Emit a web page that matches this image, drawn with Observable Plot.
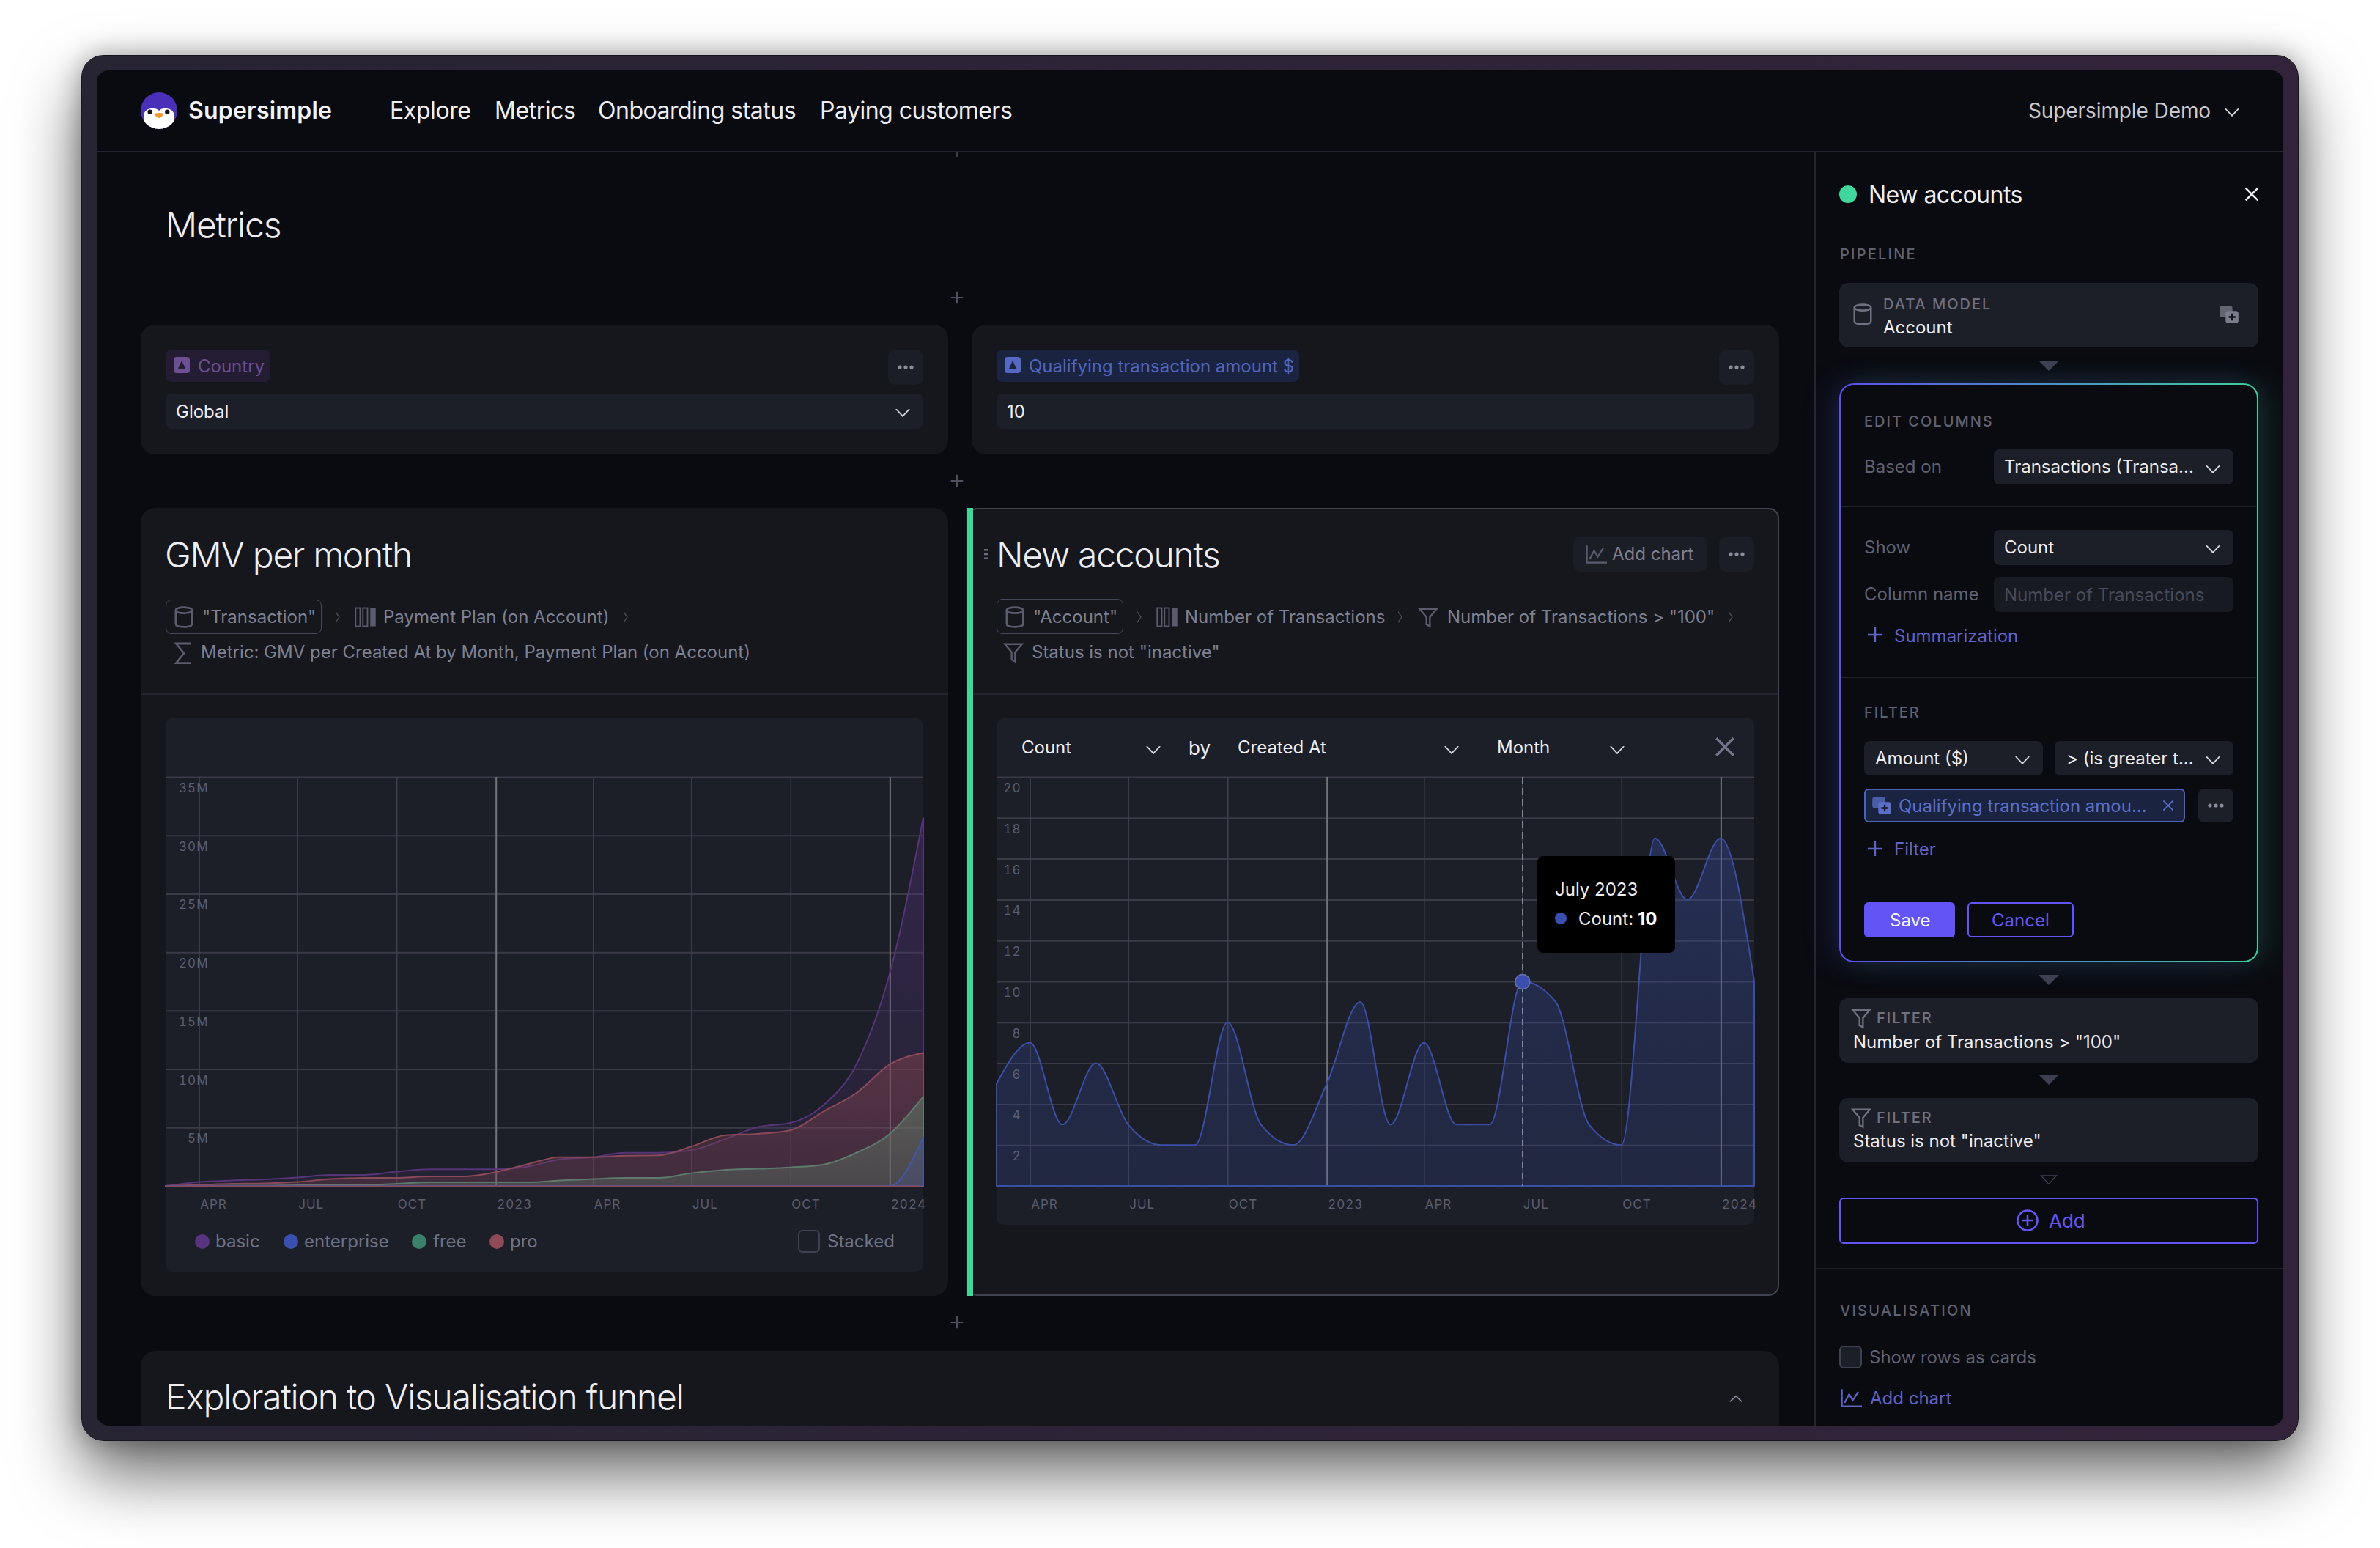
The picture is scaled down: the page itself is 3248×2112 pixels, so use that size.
<!doctype html>
<html>
<head>
<meta charset="utf-8">
<script src="https://cdn.jsdelivr.net/npm/d3@7"></script>
<script src="https://cdn.jsdelivr.net/npm/@observablehq/plot@0.6"></script>
<style>
  html, body { margin: 0; padding: 0; background: #fff; width: 3248px; height: 2112px; overflow: hidden; font-family: Inter, sans-serif; }
  #frame { position: absolute; left: 111px; top: 75px; width: 3026px; height: 1891px; border-radius: 30px;
    background: linear-gradient(90deg, #272433, #33233a); box-shadow: 0 44px 90px rgba(0,0,0,.6), 0 0 34px rgba(0,0,0,.3); border: 1px solid #17151c; box-sizing: border-box; }
  #app { position: absolute; left: 0; top: 0; width: 3248px; height: 2112px; background: #0a0b10; clip-path: inset(96px 132px 167px 132px round 16px); }
  #app div, #app svg.ic { position: absolute; box-sizing: border-box; }
  .t { white-space: nowrap; transform: translateY(-50%); line-height: 1; }
</style>
</head>
<body>
<div id="frame"></div>
<div id="app"></div>
<script>
// data
const months = ["2022-03-01","2022-04-01","2022-05-01","2022-06-01","2022-07-01","2022-08-01","2022-09-01","2022-10-01","2022-11-01","2022-12-01","2023-01-01","2023-02-01","2023-03-01","2023-04-01","2023-05-01","2023-06-01","2023-07-01","2023-08-01","2023-09-01","2023-10-01","2023-11-01","2023-12-01","2024-01-01","2024-02-01"].map(d => new Date(d));
const gmvBasic = [0,0.34,0.47,0.56,0.72,0.94,0.94,1.22,1.43,1.43,1.43,1.68,2.28,2.46,2.84,2.84,3.05,3.99,5.05,5.39,6.95,10.4,18.2,31.5];
const gmvEnterprise = [0,0,0,0,0,0,0,0,0,0,0,0,0,0,0,0,0,0,0,0,0,0,0,4.15];
const gmvFree = [0,0,0.03,0.03,0.06,0.06,0.06,0.19,0.31,0.31,0.31,0.31,0.47,0.59,0.69,0.69,1.09,1.37,1.47,1.59,1.84,2.84,4.46,7.65];
const gmvPro = [0,0.09,0.19,0.22,0.34,0.59,0.69,0.69,0.81,0.81,1.18,1.9,2.46,2.46,2.59,2.62,3.37,4.33,4.46,4.77,6.39,7.95,10.4,11.4];
const newAccounts = [5,7,3,6,3,2,2,8,3,2,5,9,3,7,3,3,10,9,3,2,17,14,17,10];
const gmvTicks = [0,5,10,15,20,25,30,35];
const countTicks = [2,4,6,8,10,12,14,16,18,20];
const xTicks = ["2022-04-01","2022-07-01","2022-10-01","2023-01-01","2023-04-01","2023-07-01","2023-10-01","2024-01-01"].map(d => new Date(d));
const yearTicks = ["2023-01-01","2024-01-01"].map(d => new Date(d));
const highlight = [{date: new Date("2023-07-01"), count: 10}];
const legendNames = ["basic","enterprise","free","pro"];
const legendColors = ["#58337f","#3a4fb0","#3b8069","#8f4a58"];

const app = document.getElementById("app");
const TXT = "#eeeef2", MUTED = "#7e8093", DIM = "#5f6172", PANEL = "#15171c", FIELD = "#1c1f28", INK = "#5f63c8", VIOLET = "#6355f5";

// small offset for the lower part of the page
const sh = y => y < 600 ? 0 : y < 1300 ? 1 : 2;

function t(text, x, y, size, color, o = {}) {
  const d = document.createElement("div");
  d.className = "t";
  d.textContent = text;
  const yy = y + (size <= 28 ? 2 : 0);
  d.style.cssText = `left:${x}px;top:${yy}px;font-size:${size}px;color:${color};font-weight:${o.w || 400};letter-spacing:${o.ls || 0}px;`;
  app.appendChild(d);
}
function box(x0, y0, x1, y1, bg, r = 8, border) {
  const d = document.createElement("div");
  const a = y0 + sh(y0), b = y1 + sh(y1);
  d.style.cssText = `left:${x0}px;top:${a}px;width:${x1 - x0}px;height:${b - a}px;background:${bg};border-radius:${r}px;${border ? "border:" + border + ";" : ""}`;
  app.appendChild(d);
  return d;
}
function ic(markup, x, y, w, h = w, vb = 24) {
  const d = document.createElement("div");
  d.style.cssText = `left:${x - w / 2}px;top:${y + sh(y) - h / 2}px;width:${w}px;height:${h}px;`;
  d.innerHTML = `<svg width="${w}" height="${h}" viewBox="0 0 ${vb} ${vb}" preserveAspectRatio="none" fill="none">${markup}</svg>`;
  app.appendChild(d);
}
const chev = (x, y, c = "#d8d8e0") => ic(`<path d="M1 2L10 18L19 2" stroke="${c}" stroke-width="2.2"/>`, x, y - 1, 20, 12, 20);
const plus = (x, y, c = INK, s = 22) => ic(`<path d="M12 1V23M1 12H23" stroke="${c}" stroke-width="2.6"/>`, x, y, s);
const dots = (x, y) => ic(`<circle cx="4" cy="12" r="2.6" fill="#8b8d9b"/><circle cx="12" cy="12" r="2.6" fill="#8b8d9b"/><circle cx="20" cy="12" r="2.6" fill="#8b8d9b"/>`, x, y, 24);
const cyl = (x, y, c = "#5a5c6e") => ic(`<ellipse cx="12" cy="5" rx="9" ry="3" stroke="${c}" stroke-width="2"/><path d="M3 5V19C3 21 7 22 12 22S21 21 21 19V5" stroke="${c}" stroke-width="2"/>`, x, y, 30, 32);
const cols = (x, y, c = "#5a5c6e") => ic(`<rect x="1" y="2" width="5" height="20" stroke="${c}" stroke-width="1.5"/><rect x="9" y="2" width="5" height="20" stroke="${c}" stroke-width="1.5"/><rect x="17" y="2" width="6" height="20" fill="${c}"/>`, x, y, 30, 30);
const funnel = (x, y, c = "#5a5c6e") => ic(`<path d="M2 3H22L14 12V22L10 20V12Z" stroke="${c}" stroke-width="2"/>`, x, y, 28, 30);
const crumb = (x, y) => ic(`<path d="M4 2L14 10L4 18" stroke="#4a4c5c" stroke-width="2"/>`, x, y, 10, 18, 20);
const tri = (y) => ic(`<path d="M0 0H24L12 24Z" fill="#3d4050"/>`, 2796, y, 28, 14);
const chartIc = (x, y, c) => ic(`<path d="M2 2V22H24" stroke="${c}" stroke-width="2"/><path d="M5 18L10 8L14 15L20 5" stroke="${c}" stroke-width="1.8"/>`, x, y, 30, 28);
const stack = (x, y, c) => ic(`<rect x="1" y="2" width="15" height="13" rx="3" fill="${c}" opacity=".75"/><rect x="8" y="8" width="15" height="14" rx="3" fill="${c}"/><path d="M15.5 11V19M11.5 15H19.5" stroke="#14151b" stroke-width="2"/>`, x, y, 28);

// top bar
box(132, 206, 3116, 208, "#24262f", 0);
ic(`<clipPath id="logoClip"><circle cx="25" cy="25" r="25"/></clipPath><circle cx="25" cy="25" r="25" fill="#4a30b8"/><path d="M4 50V33C4 21 19 19 25 25C31 19 46 21 46 33V50Z" fill="#fff" clip-path="url(#logoClip)"/><circle cx="12.7" cy="26.7" r="3.2" fill="#15151f"/><circle cx="36.3" cy="26.7" r="3.2" fill="#15151f"/><path d="M18 29Q25 27 32 29Q28 35 25 35Q22 35 18 29Z" fill="#f39a2d"/>`, 217, 151, 50, 50, 50);
t("Supersimple", 257, 151, 32, "#f4f4f8", {w: 600, ls: 0.2});
t("Explore", 532, 151, 32, TXT, {ls: -0.4});
t("Metrics", 675, 151, 32, TXT, {ls: -0.45});
t("Onboarding status", 816, 151, 32, TXT, {ls: -0.5});
t("Paying customers", 1119, 151, 32, TXT, {ls: -0.5});
t("Supersimple Demo", 2768, 149, 28, "#c8c8d2", {ls: -0.1});
chev(3046, 150);

// page title, add marks
box(1305, 208, 1307, 214, "#3a3d4c", 0);
t("Metrics", 226, 307, 48, TXT, {w: 300, ls: -1.25});
plus(1306, 406, "#4f5160", 18);
plus(1306, 655, "#4f5160", 18);
plus(1306, 1802, "#4f5160", 18);

// filter cards
box(192, 443, 1294, 619, PANEL, 20);
box(226, 477, 369, 521, "#241c33", 8);
ic(`<rect x="1" y="1" width="22" height="22" rx="4" fill="#6d4f93"/><path d="M12 6L17 17H7Z" fill="#241c33"/>`, 248, 498, 24);
t("Country", 270, 498, 24, "#6c4f8f");
box(1212, 477, 1260, 525, "#1c1e26", 10);
dots(1236, 501);
box(226, 537, 1260, 585, FIELD, 8);
t("Global", 240, 560, 24, TXT);
chev(1232, 560);

box(1326, 443, 2428, 619, PANEL, 20);
box(1360, 477, 1773, 521, "#1a2340", 8);
ic(`<rect x="1" y="1" width="22" height="22" rx="4" fill="#5468c4"/><path d="M12 6L17 17H7Z" fill="#1a2340"/>`, 1382, 498, 24);
t("Qualifying transaction amount $", 1404, 498, 24, "#5165bd");
box(2346, 477, 2394, 525, "#1c1e26", 10);
dots(2370, 501);
box(1360, 537, 2394, 585, FIELD, 8);
t("10", 1374, 560, 24, TXT);

// GMV card
box(192, 692, 1294, 1766, PANEL, 20);
box(192, 945, 1294, 947, "#24262f", 0);
t("GMV per month", 225, 757, 48, TXT, {w: 300, ls: -1.25});
box(226, 817, 439, 864, "transparent", 8, "1.5px solid #45475a");
cyl(251, 841);
t("\"Transaction\"", 276, 840, 24, MUTED);
crumb(461, 841);
cols(499, 841);
t("Payment Plan (on Account)", 523, 840, 24, MUTED);
crumb(854, 841);
ic(`<path d="M22 3H3L13 13L3 23H22" stroke="#5a5c6e" stroke-width="2.2"/>`, 250, 889, 26, 32);
t("Metric: GMV per Created At by Month, Payment Plan (on Account)", 274, 888, 24, MUTED);
box(226, 979, 1260, 1733, FIELD, 10);

// New accounts card
box(1320, 692, 2428, 1766, PANEL, 14, "2px solid #3f4250");
box(1320, 692, 1328, 1766, "#3fd79c", 0);
box(1328, 945, 2426, 947, "#24262f", 0);
ic(`<path d="M3 5H21M3 12H21M3 19H21" stroke="#6a6c7e" stroke-width="3"/>`, 1346, 755, 8, 20, 24);
t("New accounts", 1360, 757, 48, TXT, {w: 300, ls: -1.25});
box(2147, 731, 2330, 779, "#1c1e26", 10);
chartIc(2178, 755, "#5a5c6e");
t("Add chart", 2200, 754, 24, MUTED);
box(2346, 731, 2394, 779, "#1c1e26", 10);
dots(2370, 755);
box(1360, 816, 1533, 864, "transparent", 8, "1.5px solid #45475a");
cyl(1385, 841);
t("\"Account\"", 1410, 840, 24, MUTED);
crumb(1555, 841);
cols(1593, 841);
t("Number of Transactions", 1617, 840, 24, MUTED);
crumb(1911, 841);
funnel(1949, 841);
t("Number of Transactions > \"100\"", 1975, 840, 24, MUTED);
crumb(2362, 841);
funnel(1383, 889);
t("Status is not \"inactive\"", 1408, 888, 24, MUTED);
box(1360, 979, 2394, 1669, FIELD, 10);
t("Count", 1394, 1018, 24, TXT);
chev(1574, 1019);
t("by", 1622, 1019, 26, TXT);
t("Created At", 1689, 1018, 24, TXT);
chev(1981, 1019);
t("Month", 2043, 1018, 24, TXT);
chev(2207, 1019);
ic(`<path d="M2 2L22 22M22 2L2 22" stroke="#73758a" stroke-width="3"/>`, 2354, 1018, 28);

// funnel card at the bottom
box(192, 1841, 2428, 2000, PANEL, 20);
t("Exploration to Visualisation funnel", 226, 1906, 48, TXT, {w: 300, ls: -1.25});
ic(`<path d="M1 17L10 3L19 17" stroke="#8b8d9b" stroke-width="2.2"/>`, 2369, 1901, 18, 11, 20);

// charts
function xLabel(d) {
  return d.getUTCMonth() === 0 ? String(d.getUTCFullYear()) : d3.utcFormat("%b")(d).toUpperCase();
}
function gradient(id, color, a, b) {
  return () => {
    const defs = d3.create("svg:defs");
    const g = defs.append("linearGradient").attr("id", id).attr("x1", 0).attr("x2", 0).attr("y1", 0).attr("y2", 1);
    g.append("stop").attr("offset", "0%").attr("stop-color", color).attr("stop-opacity", a);
    g.append("stop").attr("offset", "100%").attr("stop-color", color).attr("stop-opacity", b);
    return defs.node();
  };
}
function grids(ticks) {
  return [
    Plot.gridY(ticks, {stroke: "#3a3b47", strokeOpacity: 1, strokeWidth: 2}),
    Plot.gridX(xTicks, {stroke: "#3d3f4c", strokeOpacity: 1, strokeWidth: 1.5}),
    Plot.ruleX(yearTicks, {stroke: "#727377", strokeWidth: 2})
  ];
}
function axes(ticks, fmt, labelX) {
  return [
    Plot.axisY(ticks, {anchor: "left", tickSize: 0, tickPadding: 0, dx: labelX, dy: 15, textAnchor: "end", tickFormat: fmt, fill: "#5b5d6e", label: null}),
    Plot.axisX(xTicks, {anchor: "bottom", tickSize: 0, tickPadding: 0, dx: 1, dy: 18, textAnchor: "start", tickFormat: xLabel, fill: "#5b5d6e", label: null})
  ];
}
function mount(node, x) {
  const d = document.createElement("div");
  d.style.cssText = `left:${x}px;top:1058px;width:1034px;height:610px;`;
  d.appendChild(node);
  app.appendChild(d);
}
const plotStyle = {background: "transparent", fontFamily: "Inter", fontSize: "17px", letterSpacing: "1px", overflow: "visible"};

// draw order: basic, pro, free, enterprise
const gmvSeries = [
  {values: gmvBasic, stroke: "#553478", id: "gBasic", fill: "#58337f", a: 0.38, b: 0.14},
  {values: gmvPro, stroke: "#8a4a5a", id: "gPro", fill: "#84444f", a: 0.5, b: 0.28},
  {values: gmvFree, stroke: "#5e7a6d", id: "gFree", fill: "#62836c", a: 0.5, b: 0.32},
  {values: gmvEnterprise, stroke: "#4457a5", id: "gEnt", fill: "#4457a5", a: 0.28, b: 0.24}
];
const rows = values => months.map((date, i) => ({date, value: values[i]}));

mount(Plot.plot({
  width: 1034, height: 610, marginTop: 2, marginBottom: 50, marginLeft: 0, marginRight: 0,
  style: plotStyle,
  x: {type: "utc", domain: [months[0], months[months.length - 1]]},
  y: {domain: [0, 35]},
  marks: [
    ...gmvSeries.map(s => gradient(s.id, s.fill, s.a, s.b)),
    ...grids(gmvTicks),
    ...gmvSeries.map(s => Plot.areaY(rows(s.values), {x: "date", y: "value", fill: `url(#${s.id})`, stroke: s.stroke, strokeWidth: 2, curve: "monotone-x"})),
    Plot.ruleY([0], {stroke: "#8a4a5a", strokeWidth: 2}),
    ...axes(gmvTicks, v => v ? v + "M" : "", 58)
  ]
}), 226);

mount(Plot.plot({
  width: 1034, height: 610, marginTop: 2, marginBottom: 50, marginLeft: 0, marginRight: 0,
  style: plotStyle,
  x: {type: "utc", domain: [months[0], months[months.length - 1]]},
  y: {domain: [0, 20]},
  marks: [
    gradient("gCount", "#3a4fb0", 0.32, 0.18),
    ...grids(countTicks),
    Plot.areaY(rows(newAccounts), {x: "date", y: "value", fill: "url(#gCount)", stroke: "#3b4ea6", strokeWidth: 2, curve: "monotone-x"}),
    Plot.ruleX(highlight, {x: "date", stroke: "#8a8c99", strokeWidth: 1.5, strokeDasharray: "9,6"}),
    Plot.dot(highlight, {x: "date", y: "count", r: 10, fill: "#3a4eb0", stroke: "#6471ad", strokeWidth: 1.5}),
    ...axes(countTicks, d => String(d), 33)
  ]
}), 1360);

// legend under the GMV chart
const legendDots = [276, 397, 572, 678], legendText = [294, 415, 591, 696];
legendNames.forEach((name, i) => {
  ic(`<circle cx="10" cy="10" r="10" fill="${legendColors[i]}"/>`, legendDots[i], 1692, 20, 20, 20);
  t(name, legendText[i], 1692, 24, "#6f7285");
});
box(1089, 1676, 1119, 1707, "transparent", 6, "2px solid #3f4150");
t("Stacked", 1129, 1692, 24, "#6f7285");

// tooltip
box(2098, 1167, 2286, 1299, "#000", 8);
t("July 2023", 2122, 1212, 24, TXT);
ic(`<circle cx="8" cy="8" r="8" fill="#3a4eb0"/>`, 2130, 1252, 16, 16, 16);
t("Count:", 2154, 1252, 24, TXT);
t("10", 2235, 1252, 24, "#fff", {w: 700});

// side panel
box(2477, 208, 3116, 1946, "#0a0b10", 0);
box(2476, 208, 2478, 1946, "#24262f", 0);
ic(`<circle cx="12" cy="12" r="12" fill="#3fd79c"/>`, 2522, 265, 24);
t("New accounts", 2550, 266, 32, TXT, {ls: -0.5});
ic(`<path d="M2 2L22 22M22 2L2 22" stroke="#f0f0f4" stroke-width="3"/>`, 3073, 265, 20);
t("PIPELINE", 2511, 345, 20, DIM, {w: 500, ls: 2.2});
box(2510, 386, 3082, 474, FIELD, 12);
cyl(2542, 429, "#6f7080");
t("DATA MODEL", 2570, 413, 20, "#6f7080", {w: 500, ls: 2});
t("Account", 2570, 445, 24, TXT);
stack(3042, 429, "#7b7d8c");
tri(497);

const edit = box(2510, 523, 3082, 1311, "#0a0b10", 20, "2.5px solid transparent");
edit.style.background = "linear-gradient(#0a0b10,#0a0b10) padding-box, linear-gradient(90deg,#5b4ff0,#3fcf9c) border-box";
edit.style.boxShadow = "-14px 0 40px rgba(91,79,240,.16), 14px 0 40px rgba(63,207,156,.16)";
t("EDIT COLUMNS", 2544, 573, 20, DIM, {w: 500, ls: 2});
t("Based on", 2544, 635, 24, DIM);
box(2721, 612, 3048, 660, FIELD, 8);
t("Transactions (Transa...", 2735, 635, 24, TXT);
chev(3020, 636);
box(2513, 689, 3079, 691, "#1f2129", 0);
t("Show", 2544, 745, 24, DIM);
box(2721, 722, 3048, 770, FIELD, 8);
t("Count", 2735, 745, 24, TXT);
chev(3020, 745);
t("Column name", 2544, 809, 24, DIM);
box(2721, 786, 3048, 834, "#181a22", 8);
t("Number of Transactions", 2735, 810, 24, "#474a5a");
plus(2559, 865);
t("Summarization", 2585, 866, 24, INK);
box(2513, 922, 3079, 924, "#1f2129", 0);
t("FILTER", 2544, 970, 20, DIM, {w: 500, ls: 2});
box(2544, 1010, 2788, 1057, FIELD, 8);
t("Amount ($)", 2559, 1033, 24, TXT);
chev(2760, 1033);
box(2804, 1010, 3048, 1057, FIELD, 8);
t("> (is greater t...", 2820, 1033, 24, TXT);
chev(3020, 1033);
box(2544, 1075, 2982, 1121, "#1a2340", 6, "2px solid #4b62b5");
stack(2568, 1098, "#5a70c8");
t("Qualifying transaction amou...", 2591, 1098, 24, "#5a70c8");
ic(`<path d="M2 2L22 22M22 2L2 22" stroke="#5a70c8" stroke-width="2.4"/>`, 2959, 1098, 16);
box(3000, 1075, 3048, 1121, FIELD, 8);
dots(3024, 1098);
plus(2559, 1157);
t("Filter", 2585, 1157, 24, INK);
box(2544, 1230, 2668, 1278, VIOLET, 6);
t("Save", 2579, 1254, 24, "#f4f4fb");
box(2685, 1230, 2830, 1278, "transparent", 6, "2.5px solid " + VIOLET);
t("Cancel", 2718, 1254, 24, VIOLET);

tri(1333);
box(2510, 1360, 3082, 1448, FIELD, 12);
funnel(2540, 1387, "#6f7080");
t("FILTER", 2561, 1387, 20, "#6f7080", {w: 500, ls: 2});
t("Number of Transactions > \"100\"", 2529, 1420, 24, TXT);
tri(1469);
box(2510, 1496, 3082, 1584, FIELD, 12);
funnel(2540, 1523, "#6f7080");
t("FILTER", 2561, 1523, 20, "#6f7080", {w: 500, ls: 2});
t("Status is not \"inactive\"", 2529, 1555, 24, TXT);
ic(`<path d="M1 1H23L12 23Z" stroke="#3d4050" stroke-width="1.5"/>`, 2796, 1604, 24, 13);
box(2510, 1632, 3082, 1695, "transparent", 6, "2.5px solid " + VIOLET);
ic(`<circle cx="15" cy="15" r="13.5" stroke="${VIOLET}" stroke-width="2.5"/><path d="M15 8V22M8 15H22" stroke="${VIOLET}" stroke-width="2.5"/>`, 2767, 1663, 30, 30, 30);
t("Add", 2796, 1664, 26, VIOLET);
box(2478, 1728, 3116, 1730, "#1f2129", 0);
t("VISUALISATION", 2511, 1786, 20, DIM, {w: 500, ls: 2.2});
box(2510, 1834, 2541, 1865, "#1c1f28", 6, "2px solid #3f4150");
t("Show rows as cards", 2551, 1850, 24, DIM);
chartIc(2526, 1905, INK);
t("Add chart", 2552, 1906, 24, INK);
</script>
</body>
</html>
